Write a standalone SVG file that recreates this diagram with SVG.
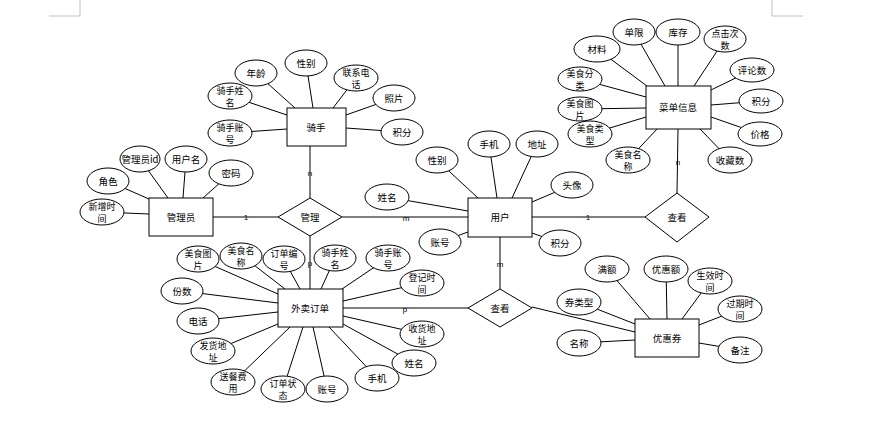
<svg xmlns="http://www.w3.org/2000/svg" width="886" height="424" viewBox="0 0 886 424">
<style>
.ln{stroke:#000;stroke-width:1;fill:none}
.pm{stroke:#c0c0c0;stroke-width:1;fill:none}
.sh{fill:#fff;stroke:#000;stroke-width:1}
text{font-family:"Noto Sans CJK SC","Liberation Sans",sans-serif;font-size:9.5px;text-anchor:middle;dominant-baseline:central;fill:#000}
.t2{font-size:9px}
.card{font-family:"Liberation Sans",sans-serif;font-size:8px}
</style>
<rect width="886" height="424" fill="#fff"/>
<path class="pm" d="M80,0V16H49M772,0V16H803"/>
<g id="connectors">
<path class="ln" d="M213,217H278M310,146V198M310,236V289M342,217H468M532,217H645M678,129L677,193M500,237V289M343,308H468M532,307L635,332"/>
<path class="ln" d="M102,212L149,214M108,181L149,199M140,159L168,198M186,159L183,198M231,173L203,198"/>
<path class="ln" d="M256,73L295,108M306,63L313,108M356,78L333,108M394,98L346,115M402,132L346,128M230,96L287,115M230,133L287,129"/>
<path class="ln" d="M198,259L278,294M241,255L285,289M283,258L300,289M335,258L321,289M388,258L342,289M422,283L343,301M422,334L343,316M414,363L343,324M377,378L329,327M327,389L313,327M283,389L303,327M233,382L290,327M213,351L278,324M198,321L278,312M182,291L278,303"/>
<path class="ln" d="M387,197L468,211M437,160L478,198M489,144L497,198M537,144L512,198M572,185L532,202M560,243L532,233M440,242L468,232"/>
<path class="ln" d="M597,49L647,86M634,32L665,86M678,32L678,86M725,39L694,86M752,70L711,90M761,101L711,105M760,134L711,117M730,160L700,129M628,160L657,129M590,134L646,117M580,109L646,108M580,79L646,97"/>
<path class="ln" d="M607,269L650,319M666,269L667,319M710,281L682,319M740,309L699,325M740,350L699,343M579,343L635,340M579,302L635,324"/>
<text class="card" x="246" y="217">1</text>
<text class="card" x="310" y="173">n</text>
<text class="card" x="310" y="263">p</text>
<text class="card" x="406" y="218">m</text>
<text class="card" x="588" y="217">1</text>
<text class="card" x="678" y="162">n</text>
<text class="card" x="500" y="264">m</text>
<text class="card" x="405" y="309">p</text>
</g>
<g id="admin"><rect class="sh" x="149" y="198" width="64" height="38"/><text x="181" y="217">管理员</text></g>
<g id="rider"><rect class="sh" x="287" y="108" width="59" height="38"/><text x="316" y="127">骑手</text></g>
<g id="order"><rect class="sh" x="278" y="289" width="65" height="38"/><text x="310" y="308">外卖订单</text></g>
<g id="user"><rect class="sh" x="468" y="198" width="64" height="39"/><text x="500" y="217">用户</text></g>
<g id="menu"><rect class="sh" x="646" y="86" width="65" height="43"/><text x="678" y="107">菜单信息</text></g>
<g id="coupon"><rect class="sh" x="635" y="319" width="64" height="38"/><text x="667" y="338">优惠券</text></g>
<g id="rel-manage"><polygon class="sh" points="310,198 342,217 310,236 278,217"/><text x="310" y="217">管理</text></g>
<g id="rel-view1"><polygon class="sh" points="677,193 709,217 677,242 645,217"/><text x="677" y="217">查看</text></g>
<g id="rel-view2"><polygon class="sh" points="500,289 532,308 500,327 468,308"/><text x="500" y="308">查看</text></g>

<g id="a-admin-time"><ellipse class="sh" cx="102" cy="212" rx="22" ry="13"/><text class="t2"><tspan x="102" y="206">新增时</tspan><tspan x="102" y="218">间</tspan></text></g>
<g id="a-admin-role"><ellipse class="sh" cx="108" cy="181" rx="21" ry="13"/><text x="108" y="181">角色</text></g>
<g id="a-admin-id"><ellipse class="sh" cx="140" cy="159" rx="20" ry="13"/><text x="140" y="159">管理员id</text></g>
<g id="a-admin-name"><ellipse class="sh" cx="186" cy="159" rx="21" ry="13"/><text x="186" y="159">用户名</text></g>
<g id="a-admin-pwd"><ellipse class="sh" cx="231" cy="173" rx="22" ry="13"/><text x="231" y="173">密码</text></g>

<g id="a-rider-age"><ellipse class="sh" cx="256" cy="73" rx="21" ry="13"/><text x="256" y="73">年龄</text></g>
<g id="a-rider-sex"><ellipse class="sh" cx="306" cy="63" rx="21" ry="13"/><text x="306" y="63">性别</text></g>
<g id="a-rider-tel"><ellipse class="sh" cx="356" cy="78" rx="22" ry="13"/><text class="t2"><tspan x="356" y="72">联系电</tspan><tspan x="356" y="84">话</tspan></text></g>
<g id="a-rider-photo"><ellipse class="sh" cx="394" cy="98" rx="21" ry="13"/><text x="394" y="98">照片</text></g>
<g id="a-rider-pts"><ellipse class="sh" cx="402" cy="132" rx="21" ry="13"/><text x="402" y="132">积分</text></g>
<g id="a-rider-name"><ellipse class="sh" cx="230" cy="96" rx="22" ry="13"/><text class="t2"><tspan x="230" y="90">骑手姓</tspan><tspan x="230" y="102">名</tspan></text></g>
<g id="a-rider-acc"><ellipse class="sh" cx="230" cy="133" rx="22" ry="13"/><text class="t2"><tspan x="230" y="127">骑手账</tspan><tspan x="230" y="139">号</tspan></text></g>

<g id="a-order-img"><ellipse class="sh" cx="198" cy="259" rx="21" ry="13"/><text class="t2"><tspan x="198" y="253">美食图</tspan><tspan x="198" y="265">片</tspan></text></g>
<g id="a-order-food"><ellipse class="sh" cx="241" cy="256" rx="21" ry="13"/><text class="t2"><tspan x="241" y="250">美食名</tspan><tspan x="241" y="262">称</tspan></text></g>
<g id="a-order-no"><ellipse class="sh" cx="284" cy="259" rx="21" ry="13"/><text class="t2"><tspan x="284" y="253">订单编</tspan><tspan x="284" y="265">号</tspan></text></g>
<g id="a-order-rname"><ellipse class="sh" cx="335" cy="258" rx="21" ry="13"/><text class="t2"><tspan x="335" y="252">骑手姓</tspan><tspan x="335" y="264">名</tspan></text></g>
<g id="a-order-racc"><ellipse class="sh" cx="388" cy="258" rx="22" ry="13"/><text class="t2"><tspan x="388" y="252">骑手账</tspan><tspan x="388" y="264">号</tspan></text></g>
<g id="a-order-regtime"><ellipse class="sh" cx="422" cy="283" rx="22" ry="13"/><text class="t2"><tspan x="422" y="277">登记时</tspan><tspan x="422" y="289">间</tspan></text></g>
<g id="a-order-recv"><ellipse class="sh" cx="422" cy="334" rx="22" ry="13"/><text class="t2"><tspan x="422" y="328">收货地</tspan><tspan x="422" y="340">址</tspan></text></g>
<g id="a-order-name"><ellipse class="sh" cx="414" cy="363" rx="22" ry="13"/><text x="414" y="363">姓名</text></g>
<g id="a-order-mobile"><ellipse class="sh" cx="377" cy="378" rx="22" ry="13"/><text x="377" y="378">手机</text></g>
<g id="a-order-acc"><ellipse class="sh" cx="327" cy="389" rx="21" ry="13"/><text x="327" y="389">账号</text></g>
<g id="a-order-status"><ellipse class="sh" cx="283" cy="389" rx="22" ry="13"/><text class="t2"><tspan x="283" y="383">订单状</tspan><tspan x="283" y="395">态</tspan></text></g>
<g id="a-order-fee"><ellipse class="sh" cx="233" cy="382" rx="22" ry="13"/><text class="t2"><tspan x="233" y="376">送餐费</tspan><tspan x="233" y="388">用</tspan></text></g>
<g id="a-order-send"><ellipse class="sh" cx="213" cy="351" rx="22" ry="13"/><text class="t2"><tspan x="213" y="345">发货地</tspan><tspan x="213" y="357">址</tspan></text></g>
<g id="a-order-tel"><ellipse class="sh" cx="198" cy="321" rx="21" ry="13"/><text x="198" y="321">电话</text></g>
<g id="a-order-qty"><ellipse class="sh" cx="182" cy="291" rx="21" ry="13"/><text x="182" y="291">份数</text></g>

<g id="a-user-name"><ellipse class="sh" cx="387" cy="197" rx="22" ry="13"/><text x="387" y="197">姓名</text></g>
<g id="a-user-sex"><ellipse class="sh" cx="437" cy="160" rx="21" ry="13"/><text x="437" y="160">性别</text></g>
<g id="a-user-mobile"><ellipse class="sh" cx="489" cy="144" rx="21" ry="13"/><text x="489" y="144">手机</text></g>
<g id="a-user-addr"><ellipse class="sh" cx="537" cy="144" rx="21" ry="13"/><text x="537" y="144">地址</text></g>
<g id="a-user-avatar"><ellipse class="sh" cx="572" cy="185" rx="21" ry="13"/><text x="572" y="185">头像</text></g>
<g id="a-user-pts"><ellipse class="sh" cx="560" cy="243" rx="21" ry="13"/><text x="560" y="243">积分</text></g>
<g id="a-user-acc"><ellipse class="sh" cx="440" cy="242" rx="21" ry="13"/><text x="440" y="242">账号</text></g>

<g id="a-menu-mat"><ellipse class="sh" cx="597" cy="49" rx="23" ry="13"/><text x="597" y="49">材料</text></g>
<g id="a-menu-limit"><ellipse class="sh" cx="634" cy="32" rx="21" ry="13"/><text x="634" y="32">单限</text></g>
<g id="a-menu-stock"><ellipse class="sh" cx="678" cy="32" rx="22" ry="13"/><text x="678" y="32">库存</text></g>
<g id="a-menu-clicks"><ellipse class="sh" cx="725" cy="39" rx="21" ry="13"/><text class="t2"><tspan x="725" y="33">点击次</tspan><tspan x="725" y="45">数</tspan></text></g>
<g id="a-menu-comments"><ellipse class="sh" cx="752" cy="70" rx="22" ry="12"/><text x="752" y="70">评论数</text></g>
<g id="a-menu-pts"><ellipse class="sh" cx="761" cy="101" rx="22" ry="12"/><text x="761" y="101">积分</text></g>
<g id="a-menu-price"><ellipse class="sh" cx="760" cy="134" rx="22" ry="12"/><text x="760" y="134">价格</text></g>
<g id="a-menu-fav"><ellipse class="sh" cx="730" cy="160" rx="22" ry="13"/><text x="730" y="160">收藏数</text></g>
<g id="a-menu-fname"><ellipse class="sh" cx="628" cy="160" rx="22" ry="13"/><text class="t2"><tspan x="628" y="154">美食名</tspan><tspan x="628" y="166">称</tspan></text></g>
<g id="a-menu-ftype"><ellipse class="sh" cx="590" cy="134" rx="22" ry="13"/><text class="t2"><tspan x="590" y="128">美食类</tspan><tspan x="590" y="140">型</tspan></text></g>
<g id="a-menu-fimg"><ellipse class="sh" cx="580" cy="109" rx="22" ry="12"/><text class="t2"><tspan x="580" y="103">美食图</tspan><tspan x="580" y="115">片</tspan></text></g>
<g id="a-menu-fcat"><ellipse class="sh" cx="580" cy="79" rx="22" ry="12"/><text class="t2"><tspan x="580" y="73">美食分</tspan><tspan x="580" y="85">类</tspan></text></g>

<g id="a-coupon-full"><ellipse class="sh" cx="607" cy="269" rx="22" ry="13"/><text x="607" y="269">满额</text></g>
<g id="a-coupon-off"><ellipse class="sh" cx="666" cy="269" rx="22" ry="13"/><text x="666" y="269">优惠额</text></g>
<g id="a-coupon-start"><ellipse class="sh" cx="710" cy="281" rx="22" ry="13"/><text class="t2"><tspan x="710" y="275">生效时</tspan><tspan x="710" y="287">间</tspan></text></g>
<g id="a-coupon-end"><ellipse class="sh" cx="740" cy="309" rx="22" ry="13"/><text class="t2"><tspan x="740" y="303">过期时</tspan><tspan x="740" y="315">间</tspan></text></g>
<g id="a-coupon-note"><ellipse class="sh" cx="740" cy="350" rx="22" ry="13"/><text x="740" y="350">备注</text></g>
<g id="a-coupon-name"><ellipse class="sh" cx="579" cy="343" rx="22" ry="13"/><text x="579" y="343">名称</text></g>
<g id="a-coupon-type"><ellipse class="sh" cx="579" cy="302" rx="22" ry="13"/><text x="579" y="302">券类型</text></g>
</svg>
